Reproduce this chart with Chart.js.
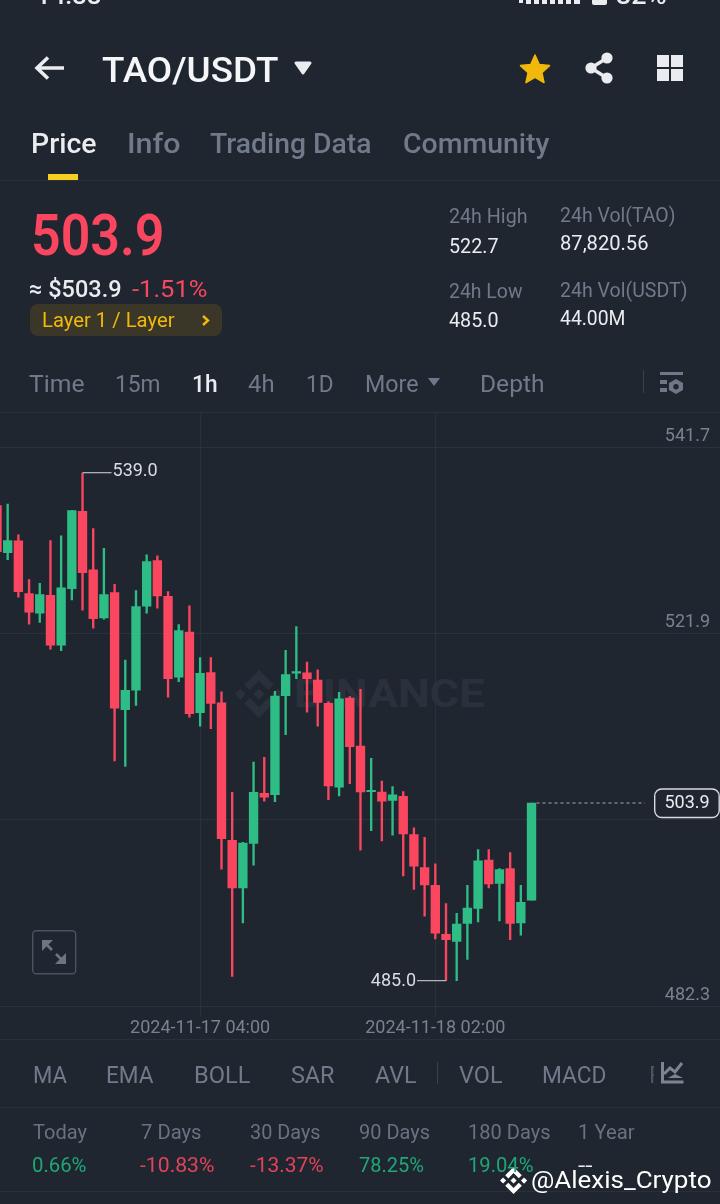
<!DOCTYPE html>
<html><head><meta charset="utf-8"><title>TAO/USDT</title>
<script src="https://cdn.jsdelivr.net/npm/chart.js@4/dist/chart.umd.min.js"></script>
<style>
html,body{margin:0;padding:0;background:#1f2630;width:720px;height:1204px;overflow:hidden;font-family:Roboto,sans-serif}
#ui,#under,#over{position:absolute;left:0;top:0;width:720px;height:1204px;overflow:hidden}
#under{z-index:1}#wrap{position:absolute;left:0;top:413px;width:720px;height:627px;z-index:2}#ui{z-index:3;pointer-events:none}
.t{position:absolute;white-space:nowrap;line-height:1;transform-origin:0 0}
.line{position:absolute;left:0;width:720px;height:1px;background:#2a303b}
svg{position:absolute;left:0;top:0}
</style></head><body>
<div id="under">
<svg width="720" height="1204"><g transform="translate(235,670) scale(2)" fill="#2b313c"><path d="M16.624 13.9202l2.7175 2.7154-7.353 7.353-7.353-7.352 2.7175-2.7164 4.6355 4.6595 4.6356-4.6595zm4.6366-4.6366L24 12l-2.7154 2.7164L18.5682 12l2.6924-2.7164zm-9.272.001l2.7163 2.6914-2.7164 2.7174v-.001L9.2721 12l2.7164-2.7154zm-9.2722-.001L5.4088 12l-2.6914 2.6924L0 12l2.7164-2.7164zM11.9885.0115l7.353 7.329-2.7174 2.7154-4.6356-4.6356-4.6355 4.6595-2.7174-2.7154 7.353-7.353z"/></g></svg>
</div>
<div id="wrap"><canvas id="c" width="720" height="627"></canvas></div>
<div id="ui">
<div class="line" style="top:180px"></div><div class="line" style="top:412px"></div>
<div class="line" style="top:1039px"></div><div class="line" style="top:1107px"></div><div class="line" style="top:1191px"></div>
<svg width="720" height="1204" fill="none">
 <!-- status bar -->
 <g fill="#eaecef"><rect x="519" y="0" width="4" height="3"/><rect x="526" y="0" width="5" height="4"/><rect x="534" y="0" width="5" height="4"/><rect x="542" y="0" width="5" height="4"/><rect x="550" y="0" width="5" height="4"/><rect x="558" y="0" width="5" height="4"/><rect x="566" y="0" width="5" height="4"/><rect x="574" y="0" width="6" height="4"/><path d="M592 0h15v3a2 2 0 0 1-2 2h-11a2 2 0 0 1-2-2z"/></g>
 <!-- header icons -->
 <path d="M64 68H38M48 57.5L37 68l11 10.5" stroke="#eaecef" stroke-width="3.6"/>
 <path d="M296 63h14l-7 10z" fill="#eaecef" stroke="#eaecef" stroke-width="3" stroke-linejoin="round"/>
 <path d="M535 55l4.3 9.6 10.2 1-7.6 7 2.1 10-9-5.2-9 5.2 2.1-10-7.6-7 10.2-1z" fill="#f0b90b" stroke="#f0b90b" stroke-width="1.5" stroke-linejoin="round"/>
 <path d="M607 58L591 68l16 10" stroke="#eaecef" stroke-width="3.4"/>
 <circle cx="607" cy="58" r="5.6" fill="#eaecef"/><circle cx="591" cy="68" r="5.6" fill="#eaecef"/><circle cx="607" cy="78" r="5.6" fill="#eaecef"/>
 <g fill="#eaecef"><rect x="657" y="55" width="12" height="12"/><rect x="671" y="55" width="12" height="12"/><rect x="657" y="69" width="12" height="12"/><rect x="671" y="69" width="12" height="12"/></g>
 <rect x="48" y="174" width="30" height="6" fill="#f6ce1f"/>
 <!-- pill -->
 <rect x="30" y="304" width="192" height="32" rx="8" fill="#3a3628"/>
 <path d="M203 316l5 4.500-5 4.500" stroke="#f0b90b" stroke-width="2.400"/>
 <!-- interval row -->
 <path d="M428 378h12l-6 8z" fill="#6f7888"/>
 <rect x="643" y="370" width="1" height="23" fill="#3a404c"/>
 <g fill="#6f7888"><rect x="660" y="372" width="23" height="3"/><rect x="660" y="380" width="7" height="4"/><rect x="660" y="388" width="7" height="4"/><path d="M676 379l7 4v7l-7 4-7-4v-7zm0 5a2.700 2.700 0 1 0 0 5.400 2.700 2.700 0 0 0 0-5.400z" fill-rule="evenodd"/></g>
 <!-- expand button -->
 <rect x="32.700" y="930.700" width="43" height="43" rx="3.500" stroke="#4c525e" stroke-width="1.400"/>
 <g fill="#6d7482"><path d="M42 940h11l-11 11z"/><path d="M66 964H55l11-11z"/></g>
 <path d="M46 944l6 6M62 960l-6-6" stroke="#6d7482" stroke-width="2.800"/>
 <!-- indicators row -->
 <rect x="437" y="1062" width="1" height="22" fill="#3a404c"/>
 <g stroke="#7c8594" stroke-width="3"><path d="M662.500 1062v20h21"/><path d="M664 1074l6-6 5 4 7-9" /></g>
 <path d="M668 1078l7-4 8 4z" fill="#7c8594"/>
 <!-- watermark logo -->
 <g transform="translate(500,1167) scale(1.130)" fill="#fff"><path d="M16.624 13.9202l2.7175 2.7154-7.353 7.353-7.353-7.352 2.7175-2.7164 4.6355 4.6595 4.6356-4.6595zm4.6366-4.6366L24 12l-2.7154 2.7164L18.5682 12l2.6924-2.7164zm-9.272.001l2.7163 2.6914-2.7164 2.7174v-.001L9.2721 12l2.7164-2.7154zm-9.2722-.001L5.4088 12l-2.6914 2.6924L0 12l2.7164-2.7164zM11.9885.0115l7.353 7.329-2.7174 2.7154-4.6356-4.6356-4.6355 4.6595-2.7174-2.7154 7.353-7.353z"/></g>
</svg>
</div>
<script>
// ---------- chart data ----------
const categories = ['11-16 09:00','11-16 10:00','11-16 11:00','11-16 12:00','11-16 13:00','11-16 14:00','11-16 15:00','11-16 16:00','11-16 17:00','11-16 18:00','11-16 19:00','11-16 20:00','11-16 21:00','11-16 22:00','11-16 23:00','11-17 00:00','11-17 01:00','11-17 02:00','11-17 03:00','11-17 04:00','11-17 05:00','11-17 06:00','11-17 07:00','11-17 08:00','11-17 09:00','11-17 10:00','11-17 11:00','11-17 12:00','11-17 13:00','11-17 14:00','11-17 15:00','11-17 16:00','11-17 17:00','11-17 18:00','11-17 19:00','11-17 20:00','11-17 21:00','11-17 22:00','11-17 23:00','11-18 00:00','11-18 01:00','11-18 02:00','11-18 03:00','11-18 04:00','11-18 05:00','11-18 06:00','11-18 07:00','11-18 08:00','11-18 09:00','11-18 10:00','11-18 11:00'];
const opens  = [535.54,530.55,531.79,526.19,524.10,526.01,520.70,526.72,534.94,528.71,523.61,526.30,513.83,515.91,524.84,529.70,525.90,517.30,522.08,513.51,517.79,514.57,499.94,494.87,499.59,504.94,504.80,515.32,517.72,517.76,516.98,514.50,505.60,515.06,509.96,505.12,505.07,504.19,504.62,500.55,497.04,495.13,489.92,489.18,491.09,492.68,497.82,495.34,496.93,491.15,493.56];
const highs  = [535.75,535.72,532.43,527.68,527.28,531.82,532.32,535.01,539.00,533.10,531.00,527.18,519.10,526.51,530.30,530.20,526.40,522.90,524.88,519.39,519.39,515.74,505.04,499.73,508.26,508.76,515.78,520.16,522.68,518.89,518.08,514.68,515.67,515.24,515.99,508.65,506.24,505.65,505.12,501.25,500.26,497.42,493.21,492.15,495.13,498.95,498.95,496.93,498.63,495.13,503.90];
const lows   = [530.44,529.80,525.80,522.93,523.11,520.27,520.10,525.52,524.42,522.50,523.46,508.37,507.80,514.29,524.10,524.63,515.17,516.81,513.04,512.09,511.81,496.86,485.46,491.15,497.28,504.09,504.05,511.17,517.12,513.58,512.09,504.27,504.65,505.97,498.88,500.97,499.87,500.47,496.15,494.70,491.86,489.45,485.00,485.00,487.26,491.26,494.87,491.36,489.35,489.85,493.56];
const closes = [530.65,531.82,526.40,524.20,526.08,520.70,526.80,535.01,528.42,523.53,526.08,514.00,515.88,524.81,529.59,525.94,517.12,522.26,513.41,517.69,514.50,500.12,494.87,499.65,505.04,504.51,515.28,517.58,517.90,517.12,514.61,505.71,515.00,509.90,505.07,505.25,504.09,504.76,500.61,497.18,495.19,490.06,489.35,491.01,492.71,497.74,495.30,496.83,491.09,493.32,503.90];
const yTickValues = [541.7,521.9,502.1,482.3];
const yTickLabels = ['541.7','521.9','','482.3'];
const xTickIndexes = [19,41];
const xTickLabels = ['2024-11-17 04:00','2024-11-18 02:00'];
const highMark = {index:8,value:539.0,label:'539.0'};
const lowMark = {index:42,value:485.0,label:'485.0'};
const lastPrice = {index:50,value:503.9,label:'503.9'};

const UP='#2ebd85',DOWN='#fb4660',GRID='#2b313c';
const barColors = opens.map((o,i)=>closes[i]>=o?UP:DOWN);

const marksPlugin = {id:'marks',afterDatasetsDraw(chart){
  const {ctx,scales:{x,y}}=chart;
  ctx.save();
  ctx.font='18px Roboto';ctx.textBaseline='middle';
  // high
  let px=x.getPixelForValue(highMark.index),py=y.getPixelForValue(highMark.value);
  ctx.strokeStyle='#b9bdc4';ctx.lineWidth=1.2;ctx.beginPath();ctx.moveTo(px,py-.5);ctx.lineTo(px+29,py-.5);ctx.stroke();
  ctx.fillStyle='#d9dce0';ctx.textAlign='left';ctx.fillText(highMark.label,px+30,py-2);
  // low
  px=x.getPixelForValue(lowMark.index);py=y.getPixelForValue(lowMark.value);
  ctx.beginPath();ctx.moveTo(px,py);ctx.lineTo(px-29,py);ctx.stroke();
  ctx.textAlign='right';ctx.fillText(lowMark.label,px-30,py+1);
  // last price
  px=x.getPixelForValue(lastPrice.index);py=y.getPixelForValue(lastPrice.value);
  ctx.setLineDash([3,3]);ctx.strokeStyle='#a9adb4';ctx.lineWidth=1;
  ctx.beginPath();ctx.moveTo(px+5,py);ctx.lineTo(645,py);ctx.stroke();ctx.setLineDash([]);
  ctx.fillStyle='#1f2630';ctx.strokeStyle='#d8dbdf';ctx.lineWidth=1.4;
  ctx.beginPath();ctx.roundRect(654.7,py-14,64.5,28.5,7);ctx.fill();ctx.stroke();
  ctx.fillStyle='#eaecef';ctx.textAlign='center';ctx.fillText(lastPrice.label,687,py+.5);
  ctx.restore();
}};

new Chart(document.getElementById('c'),{
  type:'bar',
  data:{labels:categories,datasets:[
    {label:'wick',data:lows.map((l,i)=>({x:i,y:[l,highs[i]]})),backgroundColor:barColors,barThickness:1.7,order:2},
    {label:'body',data:opens.map((o,i)=>({x:i,y:[o,closes[i]]})),backgroundColor:barColors,barThickness:8.7,order:1}
  ]},
  options:{
    responsive:false,animation:false,
    layout:{padding:0},
    datasets:{bar:{grouped:false,borderWidth:0}},
    plugins:{legend:{display:false},tooltip:{enabled:false},title:{display:false}},
    scales:{
      x:{type:'linear',position:'bottom',offset:false,min:0.2806,max:67.63,
        grid:{color:GRID,lineWidth:1,drawTicks:false,offset:false},border:{display:false},
        afterBuildTicks(s){s.ticks=xTickIndexes.map(v=>({value:v}));},
        afterFit(s){s.height=23;},
        ticks:{autoSkip:false,maxRotation:0,padding:1,color:'#7a8290',font:{family:'Roboto',size:18},
          callback(v){return xTickLabels[xTickIndexes.indexOf(v)]??'';}}
      },
      y:{type:'linear',position:'right',min:481.131,max:545.318,
        grid:{color:GRID,lineWidth:1,drawTicks:false},border:{display:false},
        afterBuildTicks(s){s.ticks=yTickValues.map(v=>({value:v}));},
        afterFit(s){s.width=0;},
        ticks:{mirror:true,padding:-10,labelOffset:-11,color:'#7a8290',font:{family:'Roboto',size:18},
          callback(v){return yTickLabels[yTickValues.indexOf(v)]??'';}}
      }
    }
  },
  plugins:[marksPlugin]
});

// ---------- app chrome text ----------
const W='#eaecef',D='#717a8a',D2='#6a7281',G='#1fa777',R='#e0435a',RED='#fb4660',Y='#f0b90b';
const mc=document.createElement('canvas').getContext('2d');
function T(txt,l,r,base,size,color,weight,parent){
  const e=document.createElement('div');e.className='t';e.textContent=txt;
  e.style.cssText+=`left:${l-1}px;top:${base-.8418*size}px;font-size:${size}px;color:${color};font-weight:${weight||400};`;
  mc.font=`${weight||400} ${size}px Roboto`;
  const w=mc.measureText(txt).width;
  e.style.transform=`scaleX(${(r-l+1.5)/w})`;
  (parent||document.getElementById('ui')).appendChild(e);
}
const U=document.getElementById('under');
T('BINANCE',295,484,707,38,'#2b313c',700,U);
T('14:38',37,101,4,26,W,500);T('32%',617,666,4,26,W,500);
T('TAO/USDT',103,278,82,35,'#f5f6f7',500);
T('Price',32,96,154,28,W,500);T('Info',128,180,154,28,D,500);T('Trading Data',211,371,154,28,D,500);T('Community',404,549,154,28,D,500);
T('503.9',32,164,255,57,RED,600);
T('≈ $503.9',30,121,297,24,W,500);T('-1.51%',133,207,297,24,RED,400);
T('Layer 1 / Layer',43,174,327,20,Y,400);
T('24h High',450,527,223,20,D);T('522.7',450,498,252.500,20,W);
T('24h Vol(TAO)',561,675,222,20,D);T('87,820.56',561,648,250,20,W);
T('24h Low',450,522,298,20,D);T('485.0',450,498,326.500,20,W);
T('24h Vol(USDT)',561,687,297,20,D);T('44.00M',561,625,325,20,W);
T('Time',30,84,392,24,D);T('15m',116,160,392,24,D);T('1h',193,217,392,24,W,500);T('4h',249,274,392,24,D);T('1D',307,333,392,24,D);T('More',366,418,392,24,D);T('Depth',481,544,392,24,D);
T('MA',33.500,66,1083,24,D);T('EMA',107,153,1083,24,D);T('BOLL',195,250,1083,24,D);T('SAR',292,334,1083,24,D);T('AVL',376,416,1083,24,D);T('VOL',460,502,1083,24,D);T('MACD',543,606,1083,24,D);
T('Today',33.500,86,1139,20,D2);T('7 Days',142,201,1139,20,D2);T('30 Days',251,320,1139,20,D2);T('90 Days',359.500,429,1139,20,D2);T('180 Days',469,550,1139,20,D2);T('1 Year',579,634,1139,20,D2);
T('0.66%',33,86,1172,20,G);T('-10.83%',141,214,1172,20,R);T('-13.37%',251,323,1172,20,R);T('78.25%',359.500,423,1172,20,G);T('19.04%',469,533,1172,20,G);T('--',579,592,1172,20,W);
T('@Alexis_Crypto',532,711,1188,24,'#fff',400);
// clipped next indicator, fading out under the chart-settings icon
const clip=document.createElement('div');clip.style.cssText='position:absolute;left:649px;top:1060px;width:5px;height:30px;overflow:hidden;opacity:.55';
document.getElementById('ui').appendChild(clip);
const rsi=document.createElement('div');rsi.className='t';rsi.textContent='RSI';rsi.style.cssText+='left:0;top:3px;font-size:24px;color:#717a8a';clip.appendChild(rsi);
</script>
</body></html>
